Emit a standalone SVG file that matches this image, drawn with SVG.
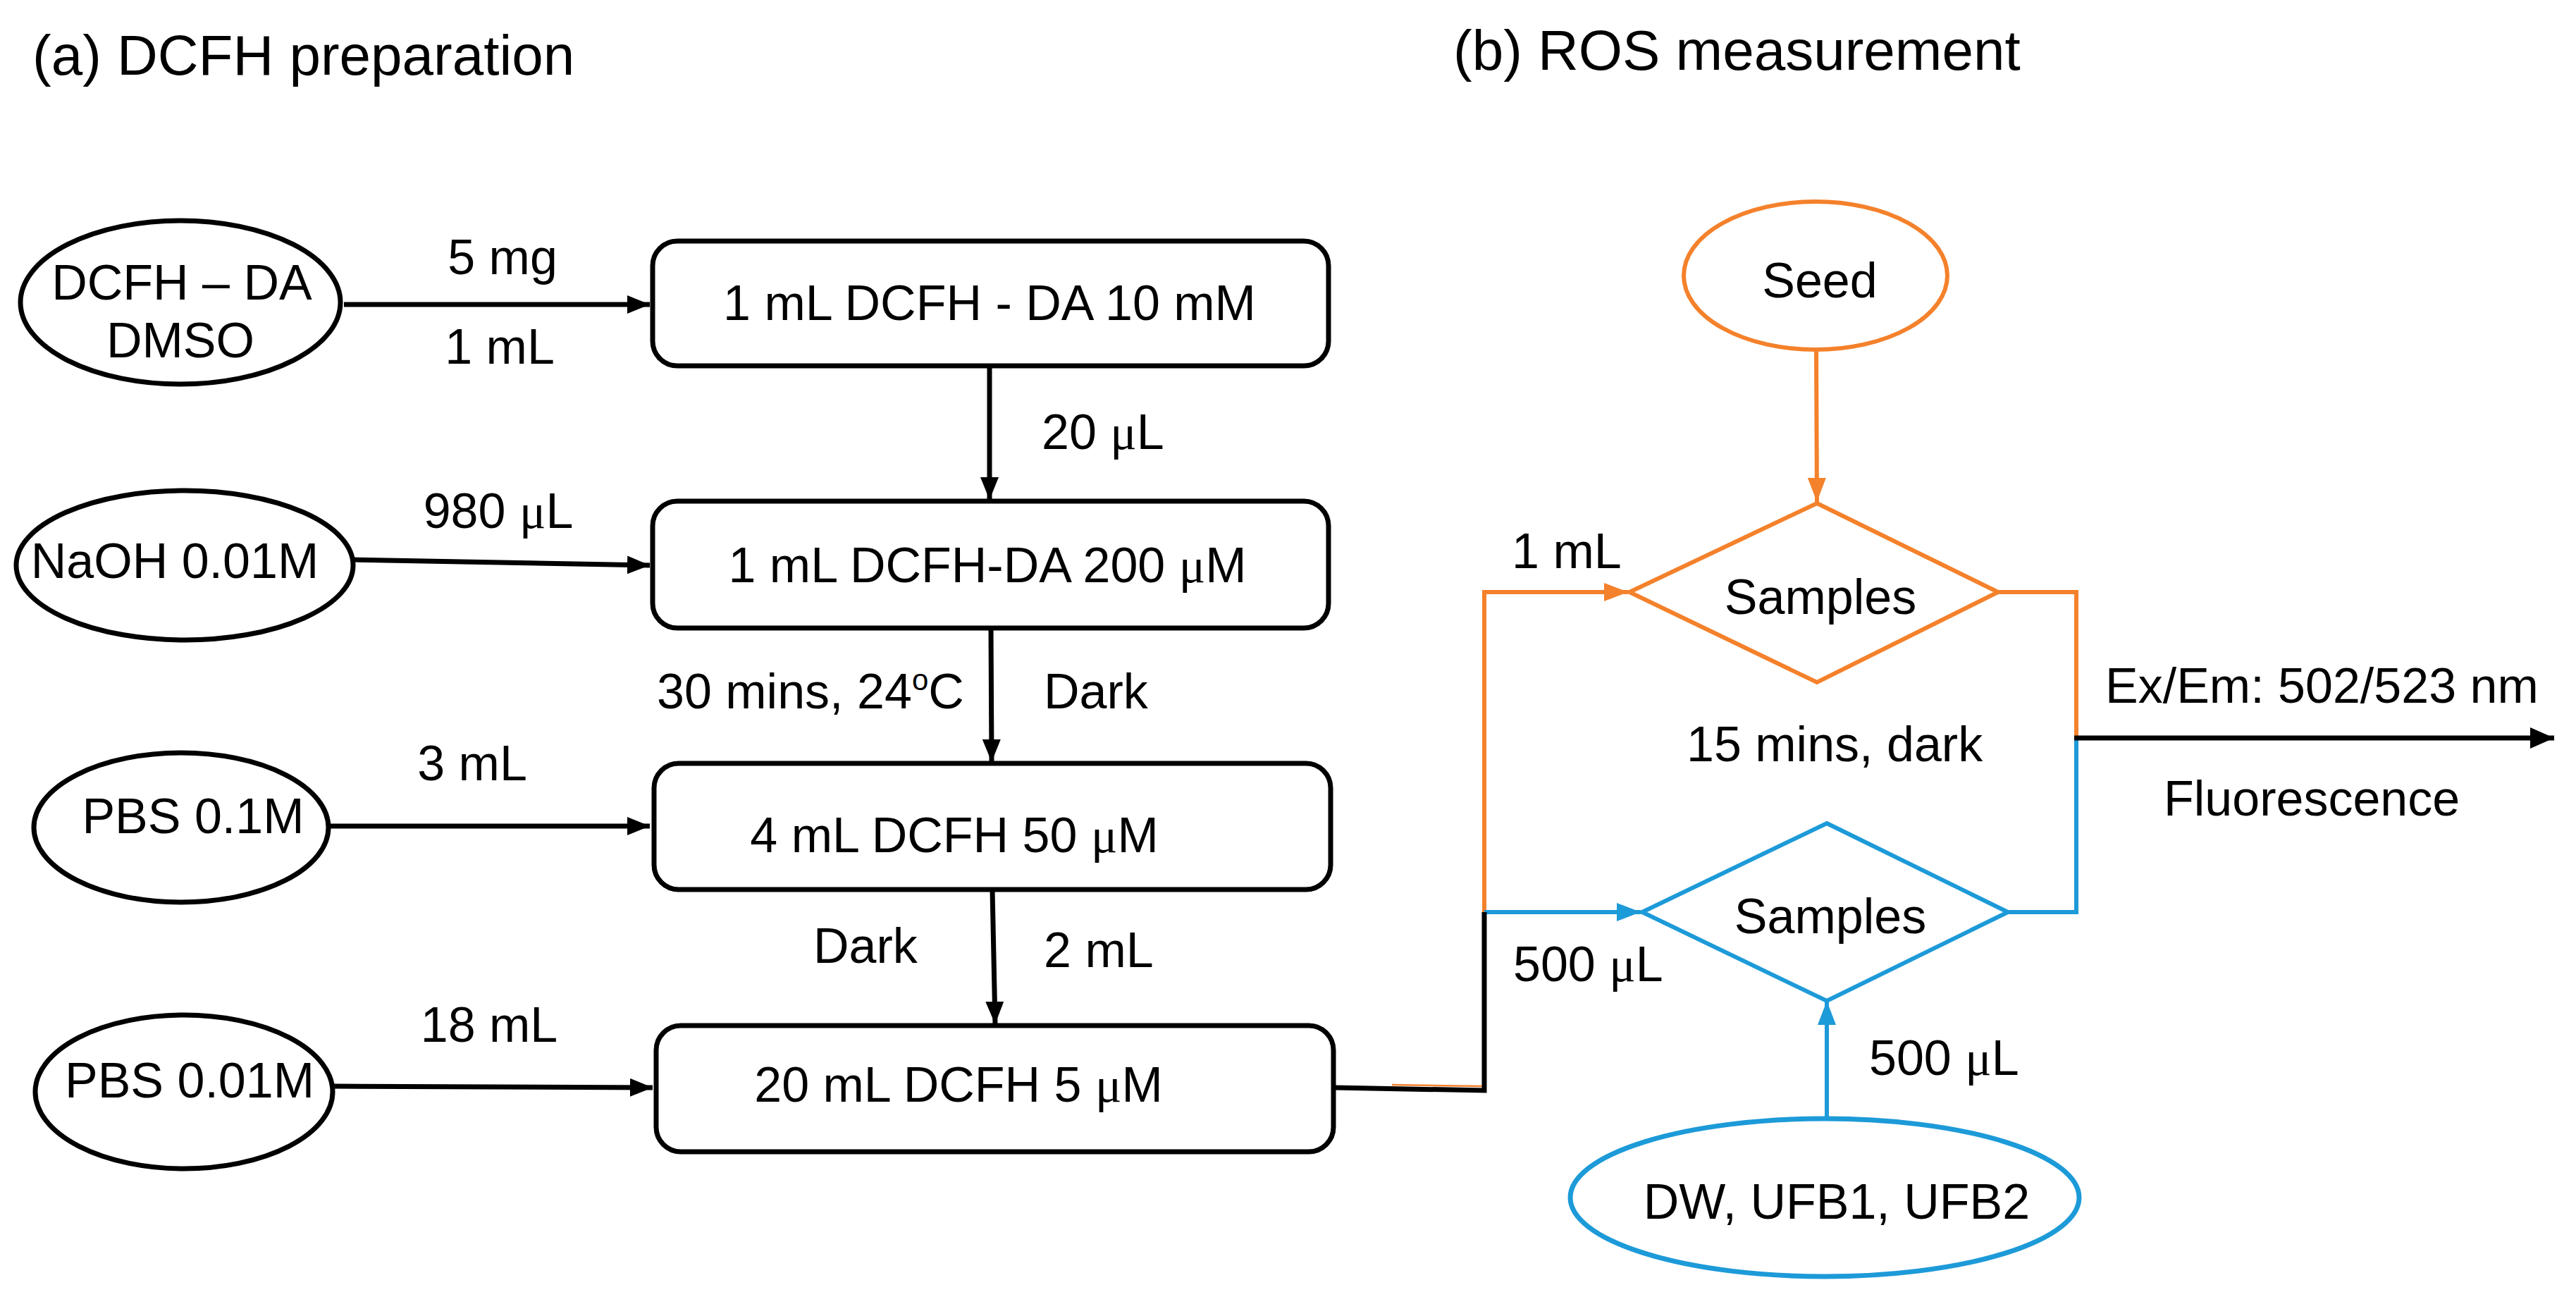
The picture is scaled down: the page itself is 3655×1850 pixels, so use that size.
<svg xmlns="http://www.w3.org/2000/svg" width="3655" height="1850" viewBox="0 0 3655 1850">
<style>
text{font-family:"Liberation Sans",Arial,sans-serif;font-size:70px;fill:#000}
.title{font-size:80px}
.mid{text-anchor:middle}
.mu{font-family:"Liberation Serif","Times New Roman",serif}
.bk{fill:none;stroke:#000;stroke-width:7}
.box{fill:#fff;stroke:#000;stroke-width:7}
.or{fill:none;stroke:#F4812B;stroke-width:6}
.bl{fill:none;stroke:#1D9AD8;stroke-width:6}
</style>
<defs>
<marker id="ak" viewBox="0 0 32 26" refX="32" refY="13" markerWidth="32" markerHeight="26" orient="auto" markerUnits="userSpaceOnUse"><path d="M0,0 L32,13 L0,26 z" fill="#000"/></marker>
<marker id="akb" viewBox="0 0 34 30" refX="34" refY="15" markerWidth="34" markerHeight="30" orient="auto" markerUnits="userSpaceOnUse"><path d="M0,0 L34,15 L0,30 z" fill="#000"/></marker>
<marker id="ao" viewBox="0 0 34 26" refX="34" refY="13" markerWidth="34" markerHeight="26" orient="auto" markerUnits="userSpaceOnUse"><path d="M0,0 L34,13 L0,26 z" fill="#F4812B"/></marker>
<marker id="ab" viewBox="0 0 34 26" refX="34" refY="13" markerWidth="34" markerHeight="26" orient="auto" markerUnits="userSpaceOnUse"><path d="M0,0 L34,13 L0,26 z" fill="#1D9AD8"/></marker>
</defs>
<rect width="3655" height="1850" fill="#fff"/>

<text class="title" x="46" y="106">(a) DCFH preparation</text>
<text class="title" x="2062" y="99">(b) ROS measurement</text>

<g id="connectors">
  <line class="bk" x1="488" y1="432" x2="922" y2="432" marker-end="url(#ak)"/>
  <line class="bk" x1="501" y1="794" x2="922" y2="802" marker-end="url(#ak)"/>
  <line class="bk" x1="466" y1="1172" x2="922" y2="1172" marker-end="url(#ak)"/>
  <line class="bk" x1="472" y1="1541" x2="926" y2="1543" marker-end="url(#ak)"/>
  <line class="bk" x1="1404" y1="519" x2="1404" y2="709" marker-end="url(#ak)"/>
  <line class="bk" x1="1406" y1="891" x2="1407" y2="1081" marker-end="url(#ak)"/>
  <line class="bk" x1="1408" y1="1262" x2="1412" y2="1453" marker-end="url(#ak)"/>
  <line x1="1975" y1="1539" x2="2103" y2="1541" stroke="#F4812B" stroke-width="2.5"/>
  <path class="or" d="M2106,1294 V840 H2310" marker-end="url(#ao)"/>
  <path class="or" d="M2835,840 H2946 V1047"/>
  <line class="or" x1="2577" y1="496" x2="2578" y2="712" marker-end="url(#ao)"/>
  <path class="bl" d="M2106,1294 H2328" marker-end="url(#ab)"/>
  <path class="bl" d="M2849,1294 H2946 V1047"/>
  <line class="bl" x1="2592" y1="1587" x2="2592" y2="1420" marker-end="url(#ab)"/>
  <path class="bk" d="M1893,1543 L2106,1547 V1294"/>
  <line class="bk" stroke-width="8" x1="2943" y1="1047" x2="3624" y2="1047" marker-end="url(#akb)"/>
</g>

<g id="labels">
  <text class="mid" x="713" y="389">5 mg</text>
  <text class="mid" x="709" y="516">1 mL</text>
  <text x="1478" y="637">20 <tspan class="mu">μ</tspan>L</text>
  <text class="mid" x="707" y="749">980 <tspan class="mu">μ</tspan>L</text>
  <text x="932" y="1005">30 mins, 24<tspan font-size="42" dy="-26">o</tspan><tspan dy="26">C</tspan></text>
  <text x="1481" y="1005">Dark</text>
  <text class="mid" x="670" y="1107">3 mL</text>
  <text x="1154" y="1366">Dark</text>
  <text x="1481" y="1372">2 mL</text>
  <text class="mid" x="694" y="1478">18 mL</text>
  <text x="2145" y="806">1 mL</text>
  <text x="2393" y="1080">15 mins, dark</text>
  <text x="2147" y="1392">500 <tspan class="mu">μ</tspan>L</text>
  <text x="2652" y="1525">500 <tspan class="mu">μ</tspan>L</text>
  <text x="2987" y="997">Ex/Em: 502/523 nm</text>
  <text x="3070" y="1157">Fluorescence</text>
</g>

<g id="n-dcfh-da">
  <ellipse class="box" cx="256" cy="429" rx="227" ry="116"/>
  <text class="mid" x="258" y="425">DCFH – DA</text>
  <text class="mid" x="256" y="507">DMSO</text>
</g>
<g id="n-naoh">
  <ellipse class="box" cx="262" cy="802" rx="239" ry="106"/>
  <text class="mid" x="248" y="820">NaOH 0.01M</text>
</g>
<g id="n-pbs01">
  <ellipse class="box" cx="257" cy="1174" rx="209" ry="106"/>
  <text class="mid" x="274" y="1182">PBS 0.1M</text>
</g>
<g id="n-pbs001">
  <ellipse class="box" cx="261" cy="1549" rx="211" ry="109"/>
  <text class="mid" x="269" y="1557">PBS 0.01M</text>
</g>

<g id="b1">
  <rect class="box" x="926" y="342" width="959" height="177" rx="35"/>
  <text class="mid" x="1404" y="454">1 mL DCFH - DA 10 mM</text>
</g>
<g id="b2">
  <rect class="box" x="926" y="711" width="959" height="180" rx="35"/>
  <text class="mid" x="1401" y="826">1 mL DCFH-DA 200 <tspan class="mu">μ</tspan>M</text>
</g>
<g id="b3">
  <rect class="box" x="928" y="1083" width="960" height="179" rx="35"/>
  <text class="mid" x="1354" y="1209">4 mL DCFH 50 <tspan class="mu">μ</tspan>M</text>
</g>
<g id="b4">
  <rect class="box" x="931" y="1455" width="961" height="179" rx="35"/>
  <text class="mid" x="1360" y="1563">20 mL DCFH 5 <tspan class="mu">μ</tspan>M</text>
</g>

<g id="seed">
  <ellipse fill="#fff" stroke="#F4812B" stroke-width="6" cx="2576" cy="391" rx="187" ry="105"/>
  <text class="mid" x="2582" y="422">Seed</text>
</g>
<g id="samples-orange">
  <polygon fill="#fff" stroke="#F4812B" stroke-width="6" points="2578,714 2835,840 2578,968 2312,840"/>
  <text class="mid" x="2583" y="871">Samples</text>
</g>
<g id="samples-blue">
  <polygon fill="#fff" stroke="#1D9AD8" stroke-width="6" points="2592,1168 2849,1294 2592,1420 2330,1294"/>
  <text class="mid" x="2597" y="1324">Samples</text>
</g>
<g id="dw">
  <ellipse fill="#fff" stroke="#1D9AD8" stroke-width="7" cx="2589" cy="1699" rx="361" ry="112"/>
  <text class="mid" x="2606" y="1729">DW, UFB1, UFB2</text>
</g>
</svg>
